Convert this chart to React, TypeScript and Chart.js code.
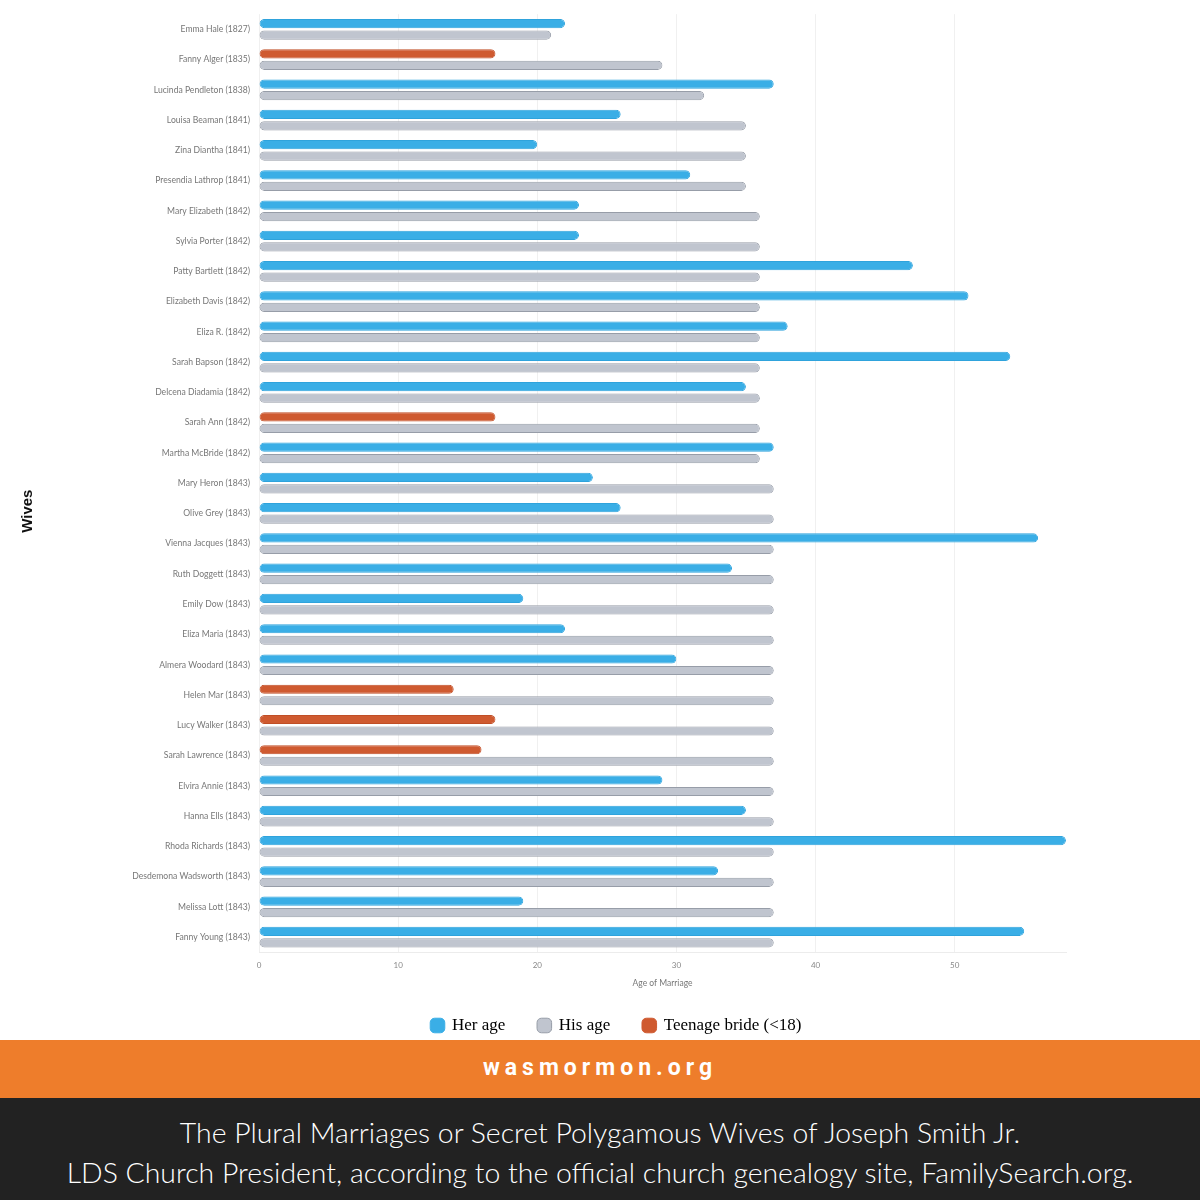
import React, { useEffect, useRef } from "react";
import { Chart, registerables } from "chart.js";

Chart.register(...registerables);

const wives = [
  "Emma Hale (1827)",
  "Fanny Alger (1835)",
  "Lucinda Pendleton (1838)",
  "Louisa Beaman (1841)",
  "Zina Diantha (1841)",
  "Presendia Lathrop (1841)",
  "Mary Elizabeth (1842)",
  "Sylvia Porter (1842)",
  "Patty Bartlett (1842)",
  "Elizabeth Davis (1842)",
  "Eliza R. (1842)",
  "Sarah Bapson (1842)",
  "Delcena Diadamia (1842)",
  "Sarah Ann (1842)",
  "Martha McBride (1842)",
  "Mary Heron (1843)",
  "Olive Grey (1843)",
  "Vienna Jacques (1843)",
  "Ruth Doggett (1843)",
  "Emily Dow (1843)",
  "Eliza Maria (1843)",
  "Almera Woodard (1843)",
  "Helen Mar (1843)",
  "Lucy Walker (1843)",
  "Sarah Lawrence (1843)",
  "Elvira Annie (1843)",
  "Hanna Ells (1843)",
  "Rhoda Richards (1843)",
  "Desdemona Wadsworth (1843)",
  "Melissa Lott (1843)",
  "Fanny Young (1843)",
];

const herAge = [22, 17, 37, 26, 20, 31, 23, 23, 47, 51, 38, 54, 35, 17, 37, 24, 26, 56, 34, 19, 22, 30, 14, 17, 16, 29, 35, 58, 33, 19, 55];
const hisAge = [21, 29, 32, 35, 35, 35, 36, 36, 36, 36, 36, 36, 36, 36, 36, 37, 37, 37, 37, 37, 37, 37, 37, 37, 37, 37, 37, 37, 37, 37, 37];

const xTicks = [0, 10, 20, 30, 40, 50];
const xMax = 58;
const teenLimit = 18;

const legendLabels = ["Her age", "His age", "Teenage bride (<18)"];
const yTitle = "Wives";
const xTitle = "Age of Marriage";

const BLUE = "#3aaee6";
const GRAY = "#c0c5cf";
const GRAY_BORDER = "#979da8";
const ORANGE = "#cf5a30";

const PAD_LEFT = 19;
const AXIS_LEFT = 259;
const LEGEND_SHIFT = 74;

const wivesTitlePlugin = {
  id: "wivesTitle",
  afterDraw(chart: any) {
    const { ctx, chartArea } = chart;
    ctx.save();
    ctx.translate(28, (chartArea.top + chartArea.bottom) / 2 + 28);
    ctx.rotate(-Math.PI / 2);
    ctx.fillStyle = "#111";
    ctx.font = "bold 15px 'Liberation Sans', sans-serif";
    ctx.textAlign = "center";
    ctx.textBaseline = "middle";
    ctx.fillText(yTitle, 0, 0);
    ctx.restore();
  },
};

const legendShiftPlugin = {
  id: "legendShift",
  afterLayout(chart: any) {
    const lg = chart.legend;
    if (lg) {
      lg.left += LEGEND_SHIFT;
      lg.right += LEGEND_SHIFT;
    }
  },
};

export default function App() {
  const ref = useRef<HTMLCanvasElement | null>(null);

  useEffect(() => {
    document.body.style.margin = "0";
    const ctx = ref.current;
    if (!ctx) return;
    const chart = new Chart(ctx, {
      type: "bar",
      data: {
        labels: wives,
        datasets: [
          {
            label: legendLabels[0],
            data: herAge,
            backgroundColor: herAge.map((v) => (v < teenLimit ? ORANGE : BLUE)),
            borderColor: herAge.map((v) => (v < teenLimit ? "#c04e26" : "#2fa3dc")),
            borderWidth: 1,
            borderRadius: 5,
            borderSkipped: false,
          },
          {
            label: legendLabels[1],
            data: hisAge,
            backgroundColor: GRAY,
            borderColor: GRAY_BORDER,
            borderWidth: 1,
            borderRadius: 5,
            borderSkipped: false,
          },
        ],
      },
      options: {
        indexAxis: "y",
        animation: false,
        responsive: false,
        maintainAspectRatio: false,
        categoryPercentage: 0.76,
        barPercentage: 0.8,
        layout: { padding: { left: PAD_LEFT, right: 134, top: 5, bottom: -4 } },
        scales: {
          x: {
            min: 0,
            max: xMax,
            afterBuildTicks: (scale: any) => {
              scale.ticks = xTicks.map((v) => ({ value: v }));
            },
            grid: { color: "#f0f0f0", drawTicks: false },
            border: { display: true, color: "#ececec" },
            ticks: { color: "#888", font: { family: "Lato", size: 8 }, padding: 8 },
            title: {
              display: true,
              text: xTitle,
              color: "#777",
              font: { family: "Lato", size: 8.5 },
              padding: { top: 0, bottom: -4 },
            },
          },
          y: {
            afterFit: (scale: any) => {
              scale.width = AXIS_LEFT - PAD_LEFT;
            },
            grid: { display: false, drawTicks: false },
            border: { display: false },
            ticks: { color: "#777", font: { family: "Lato", size: 8.6 }, padding: 9, autoSkip: false },
            title: { display: false },
          },
        },
        plugins: {
          tooltip: { enabled: false },
          legend: {
            position: "bottom",
            onClick: () => {},
            labels: {
              color: "#3a3a3a",
              font: { family: "Liberation Serif", size: 17 },
              boxWidth: 12,
              boxHeight: 12,
              padding: 33,
              usePointStyle: true,
              generateLabels: () =>
                [BLUE, GRAY, ORANGE].map((c, i) => ({
                  text: legendLabels[i],
                  fillStyle: c,
                  strokeStyle: i === 1 ? GRAY_BORDER : c,
                  lineWidth: 1,
                  pointStyle: "rectRounded",
                  hidden: false,
                  datasetIndex: i,
                })),
            },
          },
        },
      },
      plugins: [wivesTitlePlugin, legendShiftPlugin],
    });
    return () => chart.destroy();
  }, []);

  return (
    <div style={{ position: "absolute", left: 0, top: 0, width: 1200, height: 1200, background: "#fff", overflow: "hidden" }}>
      <canvas ref={ref} width={1200} height={1040} style={{ display: "block", width: 1200, height: 1040 }} />
      <div
        style={{
          height: 58,
          background: "#ee7d2b",
          color: "#fff",
          display: "flex",
          alignItems: "center",
          justifyContent: "center",
          fontFamily: "Roboto, sans-serif",
          fontWeight: 700,
          fontSize: 23,
          letterSpacing: 5,
          paddingBottom: 4,
          boxSizing: "border-box",
        }}
      >
        wasmormon.org
      </div>
      <div
        style={{
          height: 102,
          background: "#222222",
          color: "#fff",
          textAlign: "center",
          fontFamily: "Lato, sans-serif",
          fontWeight: 300,
          fontSize: 28.4,
          lineHeight: "40px",
          paddingTop: 14,
          boxSizing: "border-box",
        }}
      >
        <div>The Plural Marriages or Secret Polygamous Wives of Joseph Smith Jr.</div>
        <div>LDS Church President, according to the official church genealogy site, FamilySearch.org.</div>
      </div>
    </div>
  );
}
